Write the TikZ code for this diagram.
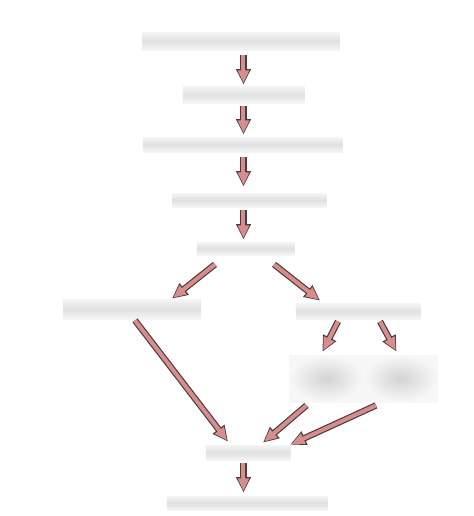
\documentclass[tikz,border=0pt]{standalone}
\usepackage{tikz}
\usetikzlibrary{arrows.meta,calc}

\definecolor{arrowpink}{RGB}{214,142,140}
\definecolor{arrowedge}{RGB}{78,60,60}

\tikzset{
  blurbox/.style={inner sep=0pt, top color=gray!8, bottom color=gray!8, middle color=gray!24},
  blobbox/.style={inner sep=0pt, minimum width=37pt, minimum height=23.5pt, inner color=gray!34, outer color=gray!6},
  flow/.style={draw=arrowedge, line width=3.2pt, -{Triangle[length=7.8pt,width=7pt]},
    postaction={draw=arrowpink, line width=2pt, -{Triangle[length=6.4pt,width=5.4pt]}, shorten >=0.75pt}}
}

\begin{document}
\begin{tikzpicture}[x=0.5pt,y=-0.5pt]
\useasboundingbox (0,0) rectangle (474,516);
\coordinate (spine) at (243.5,0);

% Upper chain
\node[blurbox, minimum width=99pt, minimum height=9pt] (top) at (241,41) {};
\node[blurbox, minimum width=61pt, minimum height=8.5pt] (second) at (244,94.5) {};
\node[blurbox, minimum width=100pt, minimum height=7.5pt] (third) at (243,144.5) {};
\node[blurbox, minimum width=77.5pt, minimum height=7pt] (fourth) at (249.5,200) {};
\node[blurbox, minimum width=49pt, minimum height=6.5pt] (split) at (246,248.5) {};

\draw[flow] ($(top.south -| spine)+(0,5)$) -- ($(second.north -| spine)+(0,-1)$);
\draw[flow] ($(second.south -| spine)+(0,3)$) -- ($(third.north -| spine)+(0,-2)$);
\draw[flow] ($(third.south -| spine)+(0,5)$) -- ($(fourth.north -| spine)+(0,-6)$);
\draw[flow] ($(fourth.south -| spine)+(0,3)$) -- ($(split.north -| spine)+(0,-2)$);

% Two branches
\node[blurbox, minimum width=69pt, minimum height=10pt] (leftbr) at (132,309) {};
\node[blurbox, minimum width=62.5pt, minimum height=8pt] (rightbr) at (358.5,311) {};

\draw[flow] ($(split.south)+(-31,9)$) -- ($(leftbr.north)+(40,0)$);
\draw[flow] ($(split.south)+(28,9)$) -- ($(rightbr.north)+(-38.5,-2)$);

% Right branch splits again
\node[blobbox] (blobl) at (326.5,378.5) {};
\node[blobbox] (blobr) at (400.5,378.5) {};

\draw[flow] ($(rightbr.south)+(-20.5,2)$) -- ($(blobl.north)+(-4,-3)$);
\draw[flow] ($(rightbr.south)+(21.5,2)$) -- ($(blobr.north)+(-4,-3)$);

% Merge
\node[blurbox, minimum width=42.5pt, minimum height=7.5pt] (merge) at (248.5,452.5) {};
\node[blurbox, minimum width=80.5pt, minimum height=7pt] (bottom) at (247.5,503) {};

\draw[flow] ($(leftbr.south)+(3,1)$) -- ($(merge.north)+(-20.5,-3)$);
\draw[flow] ($(blobl.south)+(-20,3)$) -- ($(merge.north)+(14.5,-2)$);
\draw[flow] ($(blobr.south)+(-24.5,3)$) -- ($(merge.north east)+(-1,0)$);
\draw[flow] ($(merge.south -| spine)+(0,3)$) -- ($(bottom.north -| spine)+(0,-3)$);
\end{tikzpicture}
\end{document}
